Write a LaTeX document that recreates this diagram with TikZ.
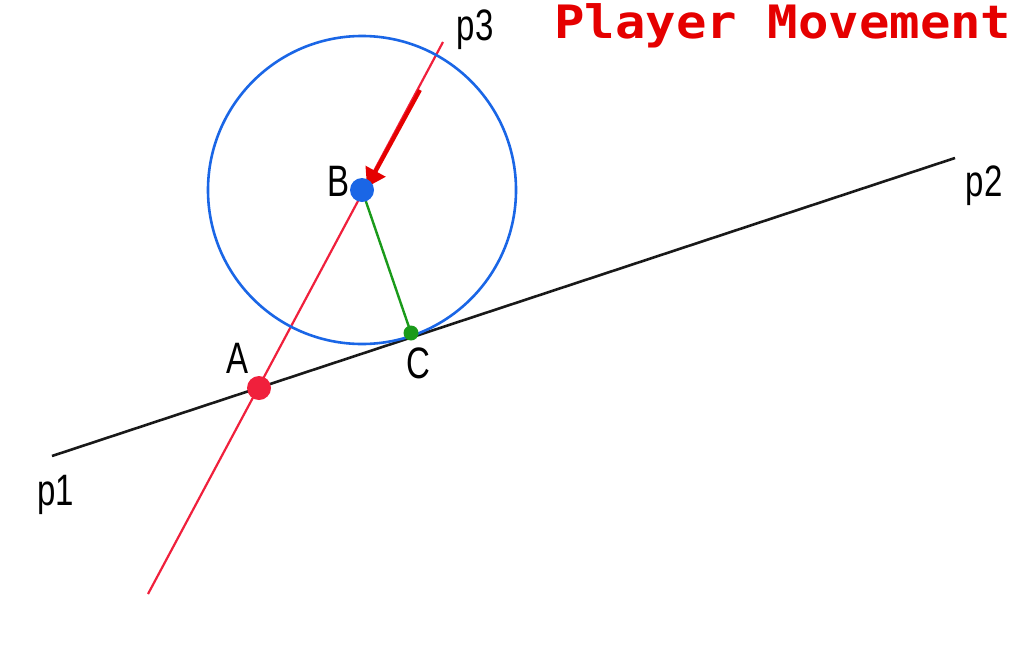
\documentclass[tikz,border=0pt]{standalone}
\usepackage{fontspec}
\setmainfont{Liberation Sans}
\newfontfamily\titlefont{DejaVu Sans Mono}
\usetikzlibrary{arrows.meta}
\definecolor{lred}{HTML}{F0203C}
\definecolor{lblue}{HTML}{1A66E6}
\definecolor{lgreen}{HTML}{1A9A1A}
\tikzset{lbl/.style={font=\fontsize{44}{44}\selectfont\addfontfeatures{FakeStretch=0.75}},
dot/.style={circle,inner sep=0pt,minimum size=#1}}
\begin{document}
\begin{tikzpicture}[x=1pt,y=-1pt]
\useasboundingbox (0,0) rectangle (1024,667);
\coordinate (p1) at (52,456);
\coordinate (p2) at (955,158);
\coordinate (r1) at (148,594);
\coordinate (r2) at (443,42);
\coordinate (ctr) at (362,190);
\coordinate (arrS) at (420,90);
\draw[line width=2.6pt,black!90] (p1) -- (p2);
\draw[line width=2.2pt,lred] (r1) -- (r2);
\draw[line width=2.6pt,lblue] (ctr) circle (154);
\draw[line width=2.4pt,lgreen] (ctr) -- (411,333);
\draw[line width=4pt,red!90!black,-{Triangle[length=18pt,width=22pt]}] (arrS) -- (367,187);
\node[dot=24,fill=lblue] (B) at (ctr) {};
\node[dot=24,fill=lred] (A) at (259,388) {};
\node[dot=15,fill=lgreen] (C) at (411,333) {};
\node[lbl] at (339,181) {B};
\node[lbl] at (238,358) {A};
\node[lbl] at (418,363) {C};
\node[lbl] at (56,495) {p1};
\node[lbl] at (984,186) {p2};
\node[lbl] at (475,30) {p3};
\node[font=\titlefont\bfseries\fontsize{46}{46}\selectfont\addfontfeatures{FakeStretch=1.1},text=red!90!black] at (783,26) {Player Movement};
\end{tikzpicture}
\end{document}
